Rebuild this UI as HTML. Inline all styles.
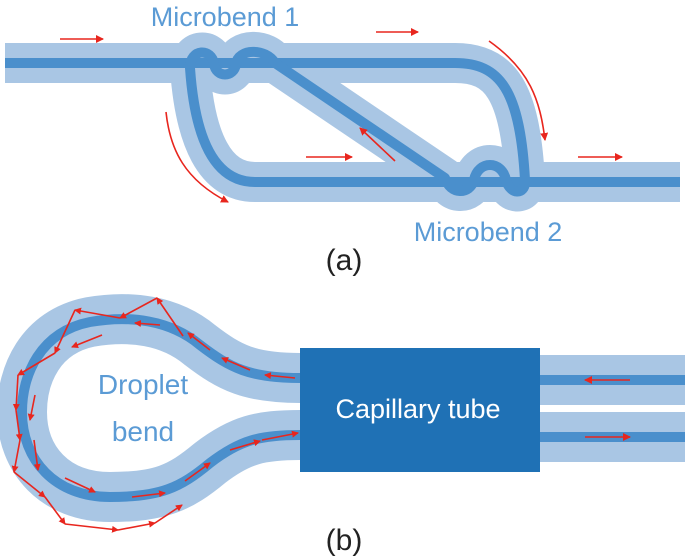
<!DOCTYPE html>
<html><head><meta charset="utf-8"><style>
html,body{margin:0;padding:0;background:#fff}
svg{display:block}
text{font-family:"Liberation Sans","DejaVu Sans",sans-serif}
</style></head><body>
<svg width="685" height="558" viewBox="0 0 685 558" xmlns="http://www.w3.org/2000/svg">
<defs>
<marker id="ah" markerWidth="8" markerHeight="8" refX="7" refY="4" orient="auto" markerUnits="userSpaceOnUse">
<path d="M0,0 L8,4 L0,8 Z" fill="#e8261e"/></marker>
<marker id="as" markerWidth="7" markerHeight="7" refX="6" refY="3.5" orient="auto" markerUnits="userSpaceOnUse">
<path d="M0,0 L7,3.5 L0,7 Z" fill="#e8261e"/></marker>
</defs>
<g fill="none" stroke-linecap="butt" stroke-linejoin="round">
<g stroke="#a9c6e4" stroke-width="40">
<path d="M5,63 L455,63 C500,63 520,90 525,180 L525,182"/>
<path d="M255,182 L680,182"/>
<path d="M255,182 C215,182 195,140 190,68 C190,48 212,48 214,64 C216,78 234,78 236,64 C238,48 266,48 275,63 L445,178 C450,195 470,195 474,180 C478,160 502,160 506,180 C510,195 525,195 525,182"/>
</g>
<g stroke="#4a8fcc" stroke-width="10">
<path d="M5,63 L455,63 C500,63 520,90 525,180 L525,182"/>
<path d="M255,182 L680,182"/>
<path d="M255,182 C215,182 195,140 190,68 C190,48 212,48 214,64 C216,78 234,78 236,64 C238,48 266,48 275,63 L445,178 C450,195 470,195 474,180 C478,160 502,160 506,180 C510,195 525,195 525,182"/>
</g>
<path d="M300,378 C250,378 230,368 200,345 C170,320 130,315 90,322 C40,332 22,375 22,412 C22,460 55,497 110,497 C160,497 180,488 210,463 C240,440 260,435 300,435" stroke="#a9c6e4" stroke-width="50"/>
<path d="M540,380 L685,380 M540,437 L685,437" stroke="#a9c6e4" stroke-width="50"/>
<path d="M300,378 C250,378 230,368 200,345 C170,320 130,315 90,322 C40,332 22,375 22,412 C22,460 55,497 110,497 C160,497 180,488 210,463 C240,440 260,435 300,435" stroke="#4a8fcc" stroke-width="10"/>
<path d="M540,380 L685,380 M540,437 L685,437" stroke="#4a8fcc" stroke-width="10"/>
</g>
<rect x="300" y="348" width="240" height="124" fill="#1f71b5"/>
<text x="418" y="418" font-size="27" fill="#fff" text-anchor="middle">Capillary tube</text>
<text x="143" y="394" font-size="28" fill="#5b9bd5" text-anchor="middle">Droplet</text>
<text x="143" y="441" font-size="28" fill="#5b9bd5" text-anchor="middle">bend</text>
<text x="225" y="26" font-size="27" fill="#5b9bd5" text-anchor="middle">Microbend 1</text>
<text x="488" y="241" font-size="27" fill="#5b9bd5" text-anchor="middle">Microbend 2</text>
<text x="344" y="270" font-size="30" fill="#222" text-anchor="middle">(a)</text>
<text x="344" y="550" font-size="30" fill="#222" text-anchor="middle">(b)</text>
<g stroke="#e8261e" stroke-width="1.6" fill="none">
<path d="M60,39 L103,39" marker-end="url(#ah)"/>
<path d="M376,32 L418,32" marker-end="url(#ah)"/>
<path d="M489,41 C530,70 540,100 545,140" marker-end="url(#ah)"/>
<path d="M578,157 L622,157" marker-end="url(#ah)"/>
<path d="M395,161 L360,128" marker-end="url(#ah)"/>
<path d="M306,157 L352,157" marker-end="url(#ah)"/>
<path d="M166,112 C170,150 185,180 228,202" marker-end="url(#ah)"/>
<path d="M630,380 L585,380" marker-end="url(#ah)"/>
<path d="M585,437 L630,437" marker-end="url(#ah)"/>
<path d="M295,378 L265,375" marker-end="url(#as)"/>
<path d="M250,370 L222,358" marker-end="url(#as)"/>
<path d="M210,350 L188,333" marker-end="url(#as)"/>
<path d="M160,325 L135,323" marker-end="url(#as)"/>
<path d="M102,335 L72,347" marker-end="url(#as)"/>
<path d="M35,395 L30,420" marker-end="url(#as)"/>
<path d="M34,440 L38,470" marker-end="url(#as)"/>
<path d="M65,478 L95,492" marker-end="url(#as)"/>
<path d="M132,497 L165,493" marker-end="url(#as)"/>
<path d="M185,481 L210,463" marker-end="url(#as)"/>
<path d="M230,450 L260,441" marker-end="url(#as)"/>
<path d="M262,440 L298,433" marker-end="url(#as)"/>
<polyline points="183,336 157,298" marker-end="url(#as)"/>
<polyline points="157,298 120,318" marker-end="url(#as)"/>
<polyline points="120,318 75,310" marker-end="url(#as)"/>
<polyline points="75,310 55,353" marker-end="url(#as)"/>
<polyline points="55,353 18,375" marker-end="url(#as)"/>
<polyline points="18,375 16,410" marker-end="url(#as)"/>
<polyline points="16,410 20,440" marker-end="url(#as)"/>
<polyline points="20,440 14,472" marker-end="url(#as)"/>
<polyline points="14,472 45,497" marker-end="url(#as)"/>
<polyline points="45,497 65,524" marker-end="url(#as)"/>
<polyline points="65,524 118,530" marker-end="url(#as)"/>
<polyline points="118,530 155,523" marker-end="url(#as)"/>
<polyline points="155,523 182,505" marker-end="url(#as)"/>
</g>
</svg>
</body></html>
